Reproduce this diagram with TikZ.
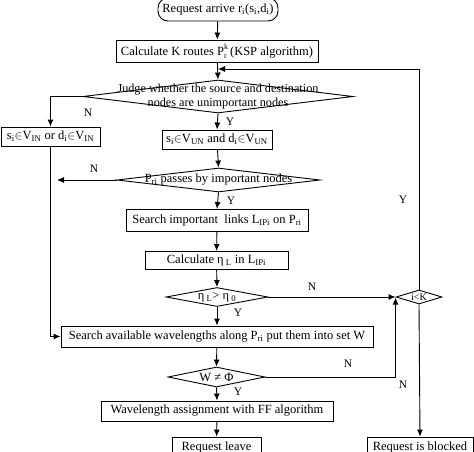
\documentclass[tikz,border=0pt]{standalone}
\usepackage{fontspec}
\setmainfont{Liberation Serif}
\usetikzlibrary{shapes.geometric,arrows.meta}
\newcommand{\sbs}[1]{\textsubscript{#1}}
\newcommand{\tinyfont}{\fontsize{8}{8}\selectfont}
\begin{document}
\begin{tikzpicture}[x=1pt,y=-1pt,line width=0.9pt,
  font=\fontsize{12.5}{14}\selectfont,
  arr/.style={-{Latex[length=7pt,width=6pt]}},
  box/.style={draw,rectangle,inner sep=0pt,align=center},
  dia/.style={draw,diamond,inner sep=0pt},
  lbl/.style={font=\fontsize{11.5}{12}\selectfont,inner sep=0pt}]
\useasboundingbox (0,0) rectangle (474,452);
\clip (0,0) rectangle (474,452);
% nodes
\node[box,rounded corners=10pt,minimum width=120pt,minimum height=23pt] (start) at (218,9.5) {Request arrive r\sbs{i}(s\sbs{i},d\sbs{i})};
\node[box,minimum width=202pt,minimum height=22pt] (calc) at (217,51) {Calculate K routes P\rlap{\raisebox{-3pt}{\tinyfont r}}\raisebox{6pt}{\tinyfont k}\,(KSP algorithm)};
\node[dia,minimum width=270pt,minimum height=33pt,label={[align=center,font=\fontsize{12.2}{14}\selectfont]center:Judge whether the source and destination\\nodes are unimportant nodes}] (d1) at (218,96.5) {};
\node[box,minimum width=99pt,minimum height=19pt] (vin) at (50.5,136.5) {s\sbs{i}$\in$V\sbs{IN} or d\sbs{i}$\in$V\sbs{IN}};
\node[box,minimum width=110pt,minimum height=19pt] (vun) at (217,139.5) {s\sbs{i}$\in$V\sbs{UN} and d\sbs{i}$\in$V\sbs{UN}};
\node[dia,minimum width=203pt,minimum height=24pt,label={center:P\sbs{ri} passes by important nodes}] (d2) at (218.5,180) {};
\node[box,minimum width=182pt,minimum height=22pt] (sil) at (217,220.5) {Search important~ links L\sbs{IPi} on P\sbs{ri}};
\node[box,minimum width=143pt,minimum height=18pt] (ceta) at (216.5,260.5) {Calculate η\sbs{ L} in L\sbs{IPi}};
\node[dia,minimum width=102pt,minimum height=19pt,label={center:η\sbs{ L}> η\sbs{ 0}}] (d3) at (217,297) {};
\node[box,minimum width=312pt,minimum height=21pt] (saw) at (217,336.5) {Search available wavelengths along P\sbs{ri} put them into set W};
\node[dia,minimum width=97pt,minimum height=20pt,label={center:W ≠ Φ}] (d4) at (216.5,377) {};
\node[box,minimum width=232pt,minimum height=20pt] (ff) at (217,411) {Wavelength assignment with FF algorithm};
\node[box,minimum width=89pt,minimum height=20pt] (leave) at (216.5,447) {Request leave};
\node[box,minimum width=106pt,minimum height=20pt] (blocked) at (420,447) {Request is blocked};
\node[dia,minimum width=46pt,minimum height=14pt,label={[font=\fontsize{10}{10}\selectfont]center:i<K}] (ik) at (419,297) {};
\coordinate (merge) at (218,69);
\coordinate (nend) at (57,180);
% connectors
\draw[arr] (start) -- (calc);
\draw[arr] (calc) -- (d1.north);
\draw[arr] (ik.north) |- (merge);
\draw[arr] (d1.west) -| (vin.north);
\draw[arr] (d1.south) -- (vun.north);
\draw[arr] (vun) -- (d2.north);
\draw[arr] (d2.west) -- (nend);
\draw[arr] (d2.south) -- (sil.north);
\draw[arr] (sil) -- (ceta);
\draw[arr] (ceta) -- (d3.north);
\draw[arr] (d3.east) -- (ik.west);
\draw[arr] (d3.south) -- (saw.north);
\draw[arr] (vin.south) |- (saw.west);
\draw[arr] (saw) -- (d4.north);
\draw[arr] (d4.east) -| ([yshift=-0.5pt]ik.west);
\draw[arr] (d4.south) -- (ff.north);
\draw[arr] (ff) -- (leave);
\draw[arr] (ik.south) -- (blocked.north);
% labels
\node[lbl] (n1) at (88,113) {N};
\node[lbl] (y1) at (230,122) {Y};
\node[lbl] (n2) at (94,169) {N};
\node[lbl] (y2) at (231,201) {Y};
\node[lbl] (y5) at (403,200) {Y};
\node[lbl] (n3) at (312,287) {N};
\node[lbl] (y3) at (238,313) {Y};
\node[lbl] (n4) at (348,364) {N};
\node[lbl] (y4) at (238,392) {Y};
\node[lbl] (n5) at (403,385) {N};
\end{tikzpicture}
\end{document}
